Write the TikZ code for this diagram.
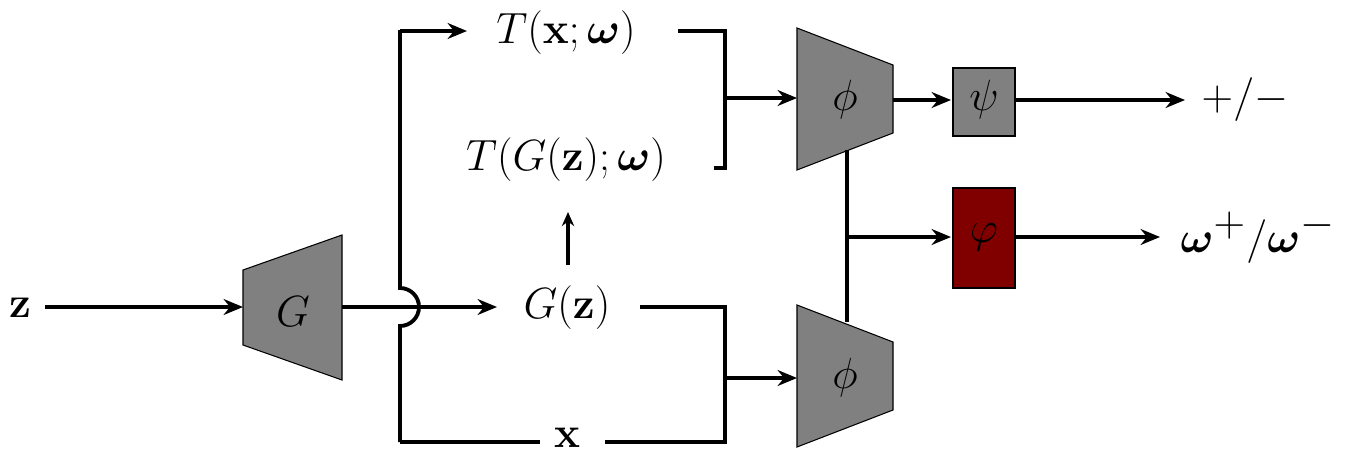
\documentclass[tikz,border=0pt]{standalone}
\usepackage{amsmath,bm}
\usetikzlibrary{arrows.meta}
\definecolor{dred}{RGB}{128,0,0}
\definecolor{mgray}{RGB}{128,128,128}
\begin{document}
\begin{tikzpicture}[x=0.02cm,y=-0.02cm,
  ln/.style={line width=2.2pt},
  ar/.style={ln,-{Stealth[length=11pt,width=9pt]}},
  lab/.style={font=\fontsize{44}{48}\selectfont,inner sep=0pt},
  blk/.style={fill=mgray,draw=black,line width=0.6pt}]
\useasboundingbox (0,0) rectangle (1354,460);
% G
\draw[blk] (243,270) -- (342,235) -- (342,380) -- (243,345) -- cycle;
\node[lab] (G) at (293,312) {$G$};
% phi top / bottom
\draw[blk] (797,28) -- (893,65) -- (893,133) -- (797,170) -- cycle;
\node[lab] (p1) at (845,100) {$\phi$};
\draw[blk] (797,305) -- (893,342) -- (893,410) -- (797,447) -- cycle;
\node[lab] (p2) at (845,378) {$\phi$};
% boxes
\draw[blk] (953,68) rectangle (1015,136);
\node[lab] (psi) at (984,100) {$\psi$};
\draw[fill=dred,draw=black,line width=0.6pt] (953,188) rectangle (1015,288);
\node[lab] (vp) at (984,237) {$\varphi$};
% labels
\node[lab] (z) at (20,308) {$\mathbf{z}$};
\node[lab] (Gz) at (567,308) {$G(\mathbf{z})$};
\node[lab] (Tx) at (566,33) {$T(\mathbf{x};\bm{\omega})$};
\node[lab] (TG) at (566,160) {$T(G(\mathbf{z});\bm{\omega})$};
\node[lab] (x) at (567,438) {$\mathbf{x}$};
\node[lab] (pm) at (1245,100) {$+/-$};
\node[lab] (om) at (1258,237) {$\bm{\omega}^{+}/\bm{\omega}^{-}$};
% connectors
\draw[ar] (45,307) -- (243,307);
\draw[ar] (342,307) -- (497,307);
\draw[ln] (400,442) -- (400,326) arc[start angle=90,end angle=-90,radius=19] -- (400,30);
\draw[ar] (400,31) -- (467,31);
\draw[ln] (400,442) -- (540,442);
\draw[ln] (605,442) -- (725,442) -- (725,307) -- (640,307);
\draw[ar] (725,378) -- (797,378);
\draw[ln] (678,31) -- (725,31) -- (725,168) -- (714,168);
\draw[ar] (725,98) -- (797,98);
\draw[ln,-{Stealth[length=8pt,width=7pt]}] (568,265) -- (568,212);
\draw[ln] (847,150) -- (847,322);
\draw[ar] (847,237) -- (951,237);
\draw[ar] (893,100) -- (951,100);
\draw[ar] (1015,100) -- (1185,100);
\draw[ar] (1015,237) -- (1160,237);
\end{tikzpicture}
\end{document}
